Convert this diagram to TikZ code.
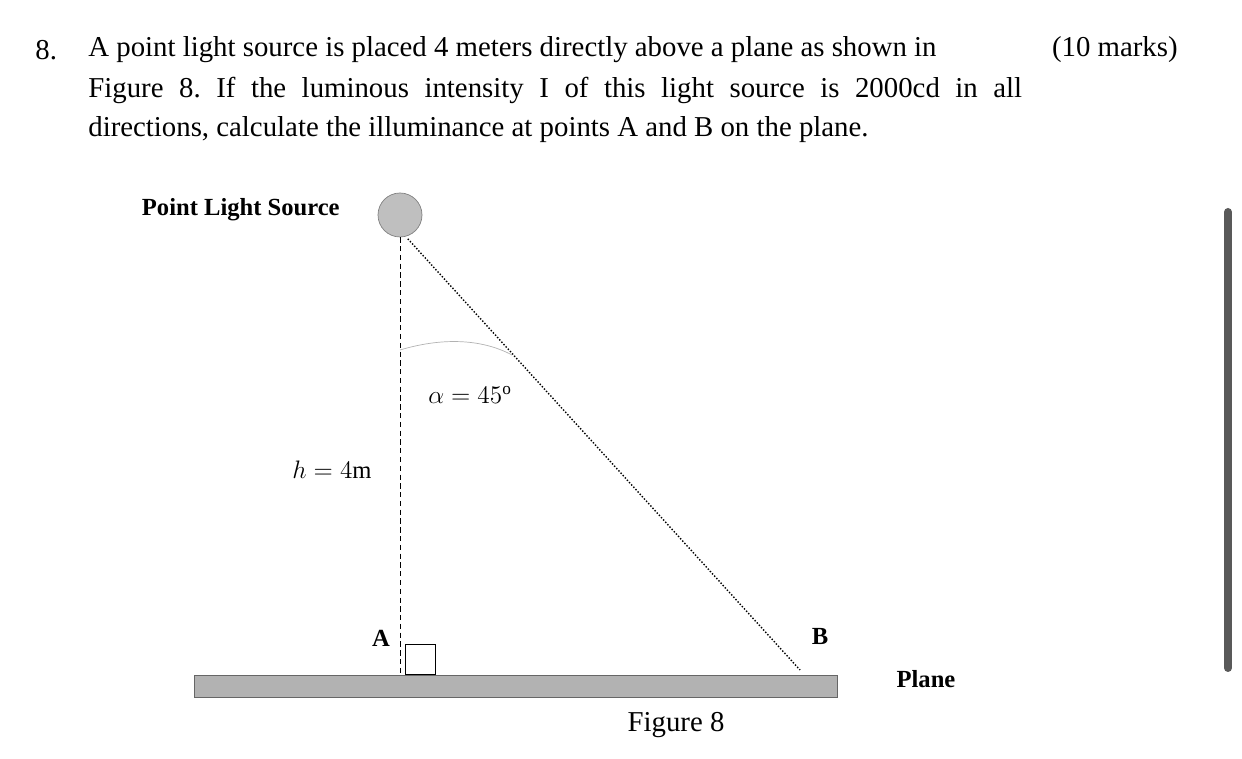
\documentclass[tikz,border=0pt]{standalone}
\usepackage{fontspec}
\setmainfont{Liberation Serif}
\frenchspacing
\begin{document}
\begin{tikzpicture}[x=0.02cm,y=-0.02cm,
  body/.style={anchor=west,inner sep=0,font=\fontsize{16.4}{18}\selectfont\rmfamily},
  lbl/.style={inner sep=0,font=\fontsize{14}{16}\selectfont}]
\useasboundingbox (0,0) rectangle (1242,759);
\node[body] (n8) at (35,50) {\rmfamily 8.};
\node[body] (l1) at (88,50) {A point light source is placed 4 meters directly above a plane as shown in};
\node[body,anchor=east] (mk) at (1178,50) {(10 marks)};
\node[body] (l2) at (88,90) {\makebox[18.68cm][s]{Figure 8. If the luminous intensity I of this light source is 2000cd in all}};
\node[body] (l3) at (88,130) {directions, calculate the illuminance at points A and B on the plane.};
% plane
\node[draw=gray!80!black,fill=gray!60,minimum width=643*0.02cm,minimum height=22*0.02cm,inner sep=0] (pl) at (516,686) {};
\node[draw,fill=white,minimum size=30*0.02cm,inner sep=0,anchor=south west] (sq) at (405,675) {};
\node[circle,draw=gray,fill=gray!50,minimum size=44*0.02cm,inner sep=0] (src) at (400,215) {};
\coordinate (A) at (400,675);
\coordinate (B) at (800,670);
\draw[densely dashed] (src.south) -- (A);
\draw[densely dotted,thick] (src.south east) ++(-8,8) -- (B);
\draw[gray!60] (400,350) .. controls (440,338) and (480,338) .. (512,355);
\node[lbl,font=\fontsize{14}{16}\selectfont\bfseries,anchor=east] (pls) at (340,210) {Point Light Source};
\node[lbl] (al) at (470,395) {$\alpha = 45^{\mathrm o}$};
\node[lbl] (h) at (332,470) {$h = 4$m};
\node[lbl,font=\fontsize{14}{16}\selectfont\bfseries] (la) at (381,638) {A};
\node[lbl,font=\fontsize{14}{16}\selectfont\bfseries] (lb) at (820,636) {B};
\node[lbl,font=\fontsize{14}{16}\selectfont\bfseries] (lp) at (926,679) {Plane};
\node[body,anchor=center] (fig) at (676,725) {Figure 8};
\draw[line width=8*0.02cm,line cap=round,gray!70!black] (1228,212) -- (1228,668);
\end{tikzpicture}
\end{document}
